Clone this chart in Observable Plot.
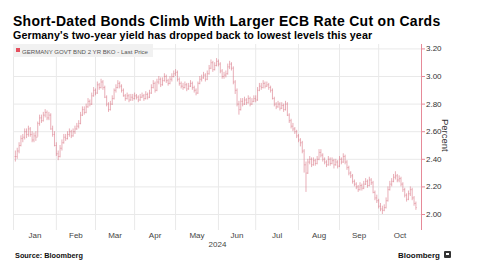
<!DOCTYPE html>
<html><head><meta charset="utf-8">
<script src="https://cdn.jsdelivr.net/npm/d3@7"></script>
<script src="https://cdn.jsdelivr.net/npm/@observablehq/plot@0.6"></script>
<style>
body{margin:0;background:#fff;}
#wrap{position:relative;width:480px;height:270px;overflow:hidden;font-family:"Liberation Sans",Arial,sans-serif;}
.t{position:absolute;white-space:nowrap;}
#title{left:13px;top:14px;font-size:14px;line-height:14px;font-weight:bold;color:#000;letter-spacing:0.3px;}
#subtitle{left:13px;top:30px;font-size:10px;line-height:10px;font-weight:bold;color:#000;letter-spacing:0.1px;}
#legbox{position:absolute;left:13px;top:44px;width:140px;height:13px;background:#f1f1f1;}
#legsq{position:absolute;left:16px;top:48px;width:4px;height:4px;background:#e5505f;}
#legtxt{left:22px;top:48px;font-size:6.3px;line-height:8px;color:#555;}
#source{left:15px;top:251px;font-size:7.5px;line-height:10px;font-weight:bold;color:#111;}
#bbg{left:398px;top:251px;font-size:9.5px;line-height:10px;font-weight:bold;color:#111;}
#icon{position:absolute;left:444px;top:251px;width:7px;height:7px;background:#333;border-radius:1px;}
#icon:after{content:"";position:absolute;left:2px;top:2px;width:3px;height:2px;background:#fff;}
#percent{left:440px;top:119px;font-size:9.5px;line-height:11px;color:#333;writing-mode:vertical-rl;}
#chart{position:absolute;left:0;top:40px;}
</style></head>
<body>
<div id="wrap">
  <div class="t" id="title">Short-Dated Bonds Climb With Larger ECB Rate Cut on Cards</div>
  <div class="t" id="subtitle">Germany's two-year yield has dropped back to lowest levels this year</div>
  <div id="chart"></div>
  <div id="legbox"></div><div id="legsq"></div>
  <div class="t" id="legtxt">GERMANY GOVT BND 2 YR BKO - Last Price</div>
  <div class="t" id="percent">Percent</div>
  <div class="t" id="source">Source: Bloomberg</div>
  <div class="t" id="bbg">Bloomberg</div>
  <div id="icon"></div>
</div>
<script>
const monthNames = ["Jan","Feb","Mar","Apr","May","Jun","Jul","Aug","Sep","Oct"];
const yearLabel = ["2024"];
const yTicks = [2.00,2.20,2.40,2.60,2.80,3.00,3.20];

const close = [
2.42,2.46,2.50,2.55,2.56,2.60,2.58,2.62,2.58,2.54,
2.57,2.56,2.66,2.70,2.68,2.72,2.74,2.70,2.72,2.62,
2.58,2.50,2.44,2.42,2.48,2.52,2.56,2.55,2.58,2.60,
2.57,2.60,2.62,2.64,2.66,2.72,2.76,2.74,2.78,2.82,
2.80,2.86,2.90,2.88,2.94,2.92,2.96,2.92,2.85,2.80,
2.76,2.80,2.84,2.90,2.92,2.95,2.93,2.90,2.86,2.84,
2.86,2.83,2.85,2.84,2.86,2.85,2.83,2.85,2.86,2.84,
2.87,2.85,2.88,2.92,2.95,2.90,2.96,2.98,2.94,2.97,
3.00,2.97,2.95,2.98,3.00,3.02,3.03,2.98,2.95,2.93,
2.92,2.94,2.91,2.93,2.95,2.92,2.90,2.88,2.95,2.98,
2.99,3.01,2.98,3.02,3.06,3.10,3.05,3.08,3.11,3.09,
3.04,3.00,3.01,3.02,3.07,3.09,3.06,2.96,2.90,2.80,
2.76,2.82,2.80,2.83,2.81,2.84,2.80,2.82,2.84,2.83,
2.90,2.93,2.92,2.95,2.93,2.94,2.92,2.90,2.84,2.80,
2.78,2.80,2.77,2.79,2.76,2.80,2.72,2.68,2.64,2.62,
2.60,2.57,2.54,2.52,2.46,2.36,2.30,2.38,2.40,2.36,
2.39,2.37,2.40,2.45,2.43,2.40,2.38,2.36,2.40,2.37,
2.39,2.36,2.38,2.35,2.40,2.38,2.42,2.38,2.34,2.30,
2.28,2.24,2.22,2.20,2.18,2.21,2.19,2.22,2.24,2.21,
2.25,2.23,2.16,2.12,2.10,2.06,2.04,2.03,2.05,2.10,
2.18,2.22,2.24,2.27,2.28,2.25,2.26,2.22,2.18,2.14,
2.11,2.15,2.18,2.12,2.08,2.05
];
const high = [
2.46,2.48,2.52,2.57,2.58,2.62,2.62,2.64,2.63,2.60,
2.59,2.60,2.67,2.72,2.72,2.74,2.76,2.75,2.74,2.73,
2.64,2.60,2.52,2.46,2.50,2.54,2.58,2.58,2.60,2.62,
2.61,2.62,2.64,2.66,2.68,2.74,2.78,2.78,2.80,2.84,
2.83,2.88,2.92,2.91,2.96,2.95,2.98,2.97,2.93,2.86,
2.81,2.82,2.86,2.91,2.94,2.97,2.96,2.94,2.91,2.87,
2.88,2.87,2.87,2.87,2.88,2.87,2.86,2.87,2.88,2.87,
2.89,2.88,2.90,2.94,2.97,2.96,2.98,3.00,2.99,2.99,
3.02,3.01,2.98,3.00,3.02,3.04,3.05,3.04,2.99,2.96,
2.95,2.96,2.95,2.95,2.97,2.96,2.93,2.91,2.96,3.00,
3.01,3.03,3.02,3.04,3.08,3.12,3.11,3.10,3.13,3.12,
3.10,3.05,3.03,3.04,3.09,3.11,3.10,3.07,2.97,2.91,
2.82,2.84,2.84,2.85,2.84,2.86,2.85,2.84,2.86,2.86,
2.92,2.95,2.95,2.97,2.96,2.96,2.95,2.93,2.91,2.85,
2.81,2.82,2.81,2.81,2.80,2.82,2.81,2.73,2.69,2.66,
2.63,2.61,2.58,2.55,2.53,2.47,2.38,2.40,2.42,2.41,
2.41,2.40,2.42,2.47,2.47,2.44,2.41,2.39,2.42,2.41,
2.41,2.40,2.40,2.39,2.42,2.41,2.44,2.43,2.39,2.35,
2.31,2.29,2.25,2.23,2.21,2.23,2.22,2.24,2.26,2.25,
2.27,2.26,2.24,2.17,2.14,2.11,2.08,2.06,2.07,2.12,
2.20,2.24,2.26,2.29,2.31,2.29,2.28,2.27,2.23,2.19,
2.15,2.17,2.20,2.19,2.13,2.09
];
const low = [
2.38,2.40,2.44,2.49,2.52,2.54,2.55,2.56,2.56,2.52,
2.52,2.53,2.56,2.64,2.66,2.67,2.70,2.68,2.68,2.61,
2.56,2.49,2.42,2.39,2.41,2.46,2.51,2.53,2.54,2.56,
2.55,2.56,2.58,2.61,2.62,2.65,2.71,2.72,2.73,2.77,
2.78,2.79,2.85,2.86,2.87,2.90,2.91,2.90,2.84,2.78,
2.74,2.75,2.79,2.83,2.88,2.91,2.91,2.88,2.85,2.82,
2.83,2.81,2.82,2.82,2.83,2.83,2.81,2.82,2.84,2.82,
2.83,2.83,2.84,2.87,2.91,2.88,2.89,2.94,2.92,2.93,
2.96,2.95,2.93,2.94,2.96,2.99,3.00,2.96,2.93,2.91,
2.90,2.91,2.89,2.90,2.92,2.90,2.88,2.86,2.87,2.94,
2.96,2.98,2.96,2.97,3.01,3.05,3.03,3.04,3.07,3.07,
3.02,2.98,2.98,2.99,3.01,3.05,3.04,2.94,2.87,2.78,
2.72,2.75,2.78,2.79,2.79,2.80,2.78,2.79,2.81,2.81,
2.82,2.89,2.90,2.91,2.91,2.92,2.90,2.88,2.83,2.78,
2.76,2.77,2.75,2.76,2.74,2.75,2.71,2.66,2.62,2.60,
2.58,2.55,2.52,2.49,2.44,2.30,2.16,2.29,2.36,2.34,
2.35,2.35,2.36,2.39,2.41,2.38,2.36,2.34,2.35,2.35,
2.36,2.33,2.35,2.33,2.34,2.36,2.37,2.36,2.32,2.28,
2.26,2.22,2.20,2.18,2.16,2.17,2.17,2.18,2.21,2.19,
2.20,2.21,2.15,2.10,2.08,2.04,2.02,2.00,2.02,2.04,
2.09,2.17,2.20,2.23,2.25,2.23,2.23,2.20,2.16,2.12,
2.09,2.10,2.13,2.10,2.06,2.03
];

// trading-day axis: weekdays of Jan–Oct 2024
const days = d3.timeDay.range(new Date(2024,0,1), new Date(2024,10,1)).filter(d => d.getDay() % 6 !== 0);
const nDays = days.length;
const rows = close.map((c, i) => ({k: i + 1, open: i ? close[i-1] : c, close: c, lo: low[i], hi: high[i]}));
const monthStarts = monthNames.map((m, j) => days.findIndex(d => d.getMonth() === j));
const monthMid = monthStarts.map((s, j) => (s + (j < monthStarts.length - 1 ? monthStarts[j+1] : nDays)) / 2);
const xDomain = [0, nDays];
const barColor = "#d8707f";
const axisColor = "#e68a98";

const chart = Plot.plot({
  width: 480, height: 214,
  marginTop: 4, marginBottom: 24, marginLeft: 13, marginRight: 59,
  style: {fontFamily: "Liberation Sans, Arial, sans-serif", fontSize: "8px", color: "#333", background: "transparent"},
  x: {domain: xDomain, axis: null},
  y: {domain: [1.884, 3.232], axis: null},
  marks: [
    Plot.ruleY(yTicks, {stroke: "#e9e9e9"}),
    Plot.ruleX(monthStarts, {stroke: "#e9e9e9"}),
    Plot.ruleX(rows, {x: "k", y1: "lo", y2: "hi", stroke: barColor, strokeWidth: 0.8, strokeOpacity: 0.7}),
    Plot.link(rows, {x1: d => d.k - 0.45, x2: "k", y1: "open", y2: "open", stroke: barColor, strokeWidth: 0.8, strokeOpacity: 0.55}),
    Plot.link(rows, {x1: "k", x2: d => d.k + 0.45, y1: "close", y2: "close", stroke: barColor, strokeWidth: 0.8, strokeOpacity: 0.55}),
    Plot.ruleX([xDomain[1]], {stroke: axisColor}),
    Plot.axisY(yTicks, {anchor: "right", tickSize: 3, tickPadding: 1.5, stroke: axisColor, fill: "#333", tickFormat: d => d.toFixed(2), label: null, fontSize: 8}),
    Plot.text(monthNames, {x: monthMid, text: d => d, frameAnchor: "bottom", dy: 7, fill: "#444", fontSize: 8}),
    Plot.text(yearLabel, {x: [(xDomain[0] + xDomain[1]) / 2], text: d => d, frameAnchor: "bottom", dy: 16, fill: "#444", fontSize: 8})
  ]
});
document.getElementById("chart").appendChild(chart);

function fit(id, target) {
  const el = document.getElementById(id);
  const w = el.getBoundingClientRect().width;
  const fs = parseFloat(getComputedStyle(el).fontSize);
  el.style.fontSize = (fs * target / w) + "px";
}
fit("title", 428);
fit("subtitle", 360);
fit("legtxt", 126);
fit("source", 68);
fit("bbg", 42);
</script>
</body></html>
